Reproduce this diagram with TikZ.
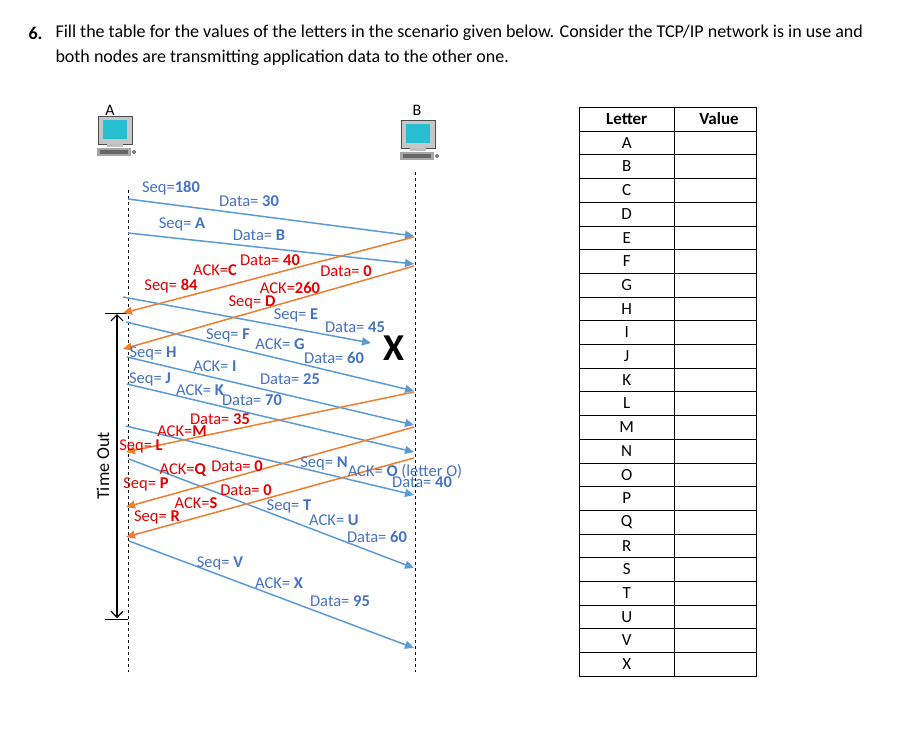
\documentclass[tikz,border=0pt]{standalone}
\usepackage{fontspec}
\setmainfont{Carlito}
\usetikzlibrary{arrows.meta}
\definecolor{bl}{RGB}{91,155,213}
\definecolor{blt}{RGB}{68,114,196}
\definecolor{orr}{RGB}{237,125,49}
\definecolor{rdt}{RGB}{230,0,0}
\definecolor{scr}{RGB}{40,190,210}
\tikzset{
 bmsg/.style={bl,line width=1.5pt,-{Triangle[length=9pt,width=8pt]}},
 omsg/.style={orr,line width=1.5pt,-{Triangle[length=9pt,width=8pt]}},
 bt/.style={text=blt,font=\fontsize{16.5}{17}\selectfont,inner sep=0pt},
 rt/.style={text=rdt,font=\fontsize{16.5}{17}\selectfont,inner sep=0pt},
 cell/.style={draw,minimum width=95pt,minimum height=23.7pt,font=\fontsize{17}{18}\selectfont,inner sep=0pt},
 cellv/.style={draw,minimum width=82pt,minimum height=23.7pt,font=\fontsize{17}{18}\selectfont,inner sep=0pt},
 tl/.style={dashed,line width=0.8pt}
}
\newcommand{\pc}[2]{%
 \fill[gray!45] (#1-17,#2-14) rectangle (#1+17,#2+14);
 \draw[black!70] (#1-17,#2-14) rectangle (#1+17,#2+14);
 \fill[scr] (#1-12,#2-10) rectangle (#1+12,#2+9);
 \fill[gray!50] (#1-8,#2+14) rectangle (#1+8,#2+17);
 \fill[gray!70] (#1-18,#2+18) rectangle (#1+16,#2+26);
 \fill[black!60] (#1-15,#2+20) rectangle (#1+13,#2+24);
 \draw (#1+19,#2+22) circle (1.5);}
\begin{document}
\begin{tikzpicture}[x=1pt,y=-1pt]
\useasboundingbox (0,0) rectangle (899,744);
\node[anchor=west,font=\fontsize{18}{20}\selectfont] (q) at (25,33) {\textbf{6.}};
\node[anchor=west,font=\fontsize{18}{20}\selectfont] (t1) at (52,33) {Fill the table for the values of the letters in the scenario given below. Consider the TCP/IP network is in use and};
\node[anchor=west,font=\fontsize{18}{20}\selectfont] (t2) at (52,58) {both nodes are transmitting application data to the other one.};
% hosts
\node[font=\fontsize{16}{17}\selectfont] (la) at (110,110) {A};
\node[font=\fontsize{16}{17}\selectfont] (lb) at (417,110) {B};
\pc{115}{130}
\pc{418}{134}
% time lines
\coordinate (a0) at (128,190); \coordinate (a1) at (128,672);
\coordinate (b0) at (415,172); \coordinate (b1) at (415,672);
\draw[tl] (a0) -- (a1);
\draw[tl] (b0) -- (b1);
% timeout
\coordinate (to1) at (117,314); \coordinate (to2) at (117,618);
\draw[line width=0.8pt] (105,313) -- (128,313);
\draw[line width=0.8pt] (105,619) -- (128,619);
\draw[line width=1.2pt,{Straight Barb[length=6pt,width=12pt]}-{Straight Barb[length=6pt,width=12pt]}] (to1) -- (to2);
\node[rotate=90,font=\fontsize{18}{20}\selectfont] (tol) at (103,466) {Time Out};
% blue messages
\coordinate (p1) at (128,199); \coordinate (q1) at (414,236);
\coordinate (p2) at (128,233); \coordinate (q2) at (414,264);
\coordinate (p3) at (123,297); \coordinate (q3) at (371,343);
\coordinate (p4) at (126,322); \coordinate (q4) at (414,391);
\coordinate (p5) at (127,357); \coordinate (q5) at (414,425);
\coordinate (p6) at (127,384); \coordinate (q6) at (414,452);
\coordinate (p7) at (126,426); \coordinate (q7) at (414,495);
\coordinate (p8) at (129,459); \coordinate (q8) at (414,568);
\coordinate (p9) at (129,541); \coordinate (q9) at (414,648);
\foreach \i in {1,...,9} \draw[bmsg] (p\i) -- (q\i);
% orange messages
\coordinate (r1) at (414,237); \coordinate (s1) at (123,313);
\coordinate (r2) at (414,266); \coordinate (s2) at (123,349);
\coordinate (r3) at (414,392); \coordinate (s3) at (126,452);
\coordinate (r4) at (414,427); \coordinate (s4) at (126,507);
\coordinate (r5) at (414,458); \coordinate (s5) at (126,537);
\foreach \i in {1,...,5} \draw[omsg] (r\i) -- (s\i);
\node[font=\bfseries\fontsize{38}{38}\selectfont,inner sep=0pt] (x) at (394,348) {X};
% labels
\node[bt] (l1) at (171,188) {Seq=\textbf{180}};
\node[bt] (l2) at (249,201) {Data= \textbf{30}};
\node[bt] (l3) at (182,224) {Seq= \textbf{A}};
\node[bt] (l4) at (259,235) {Data= \textbf{B}};
\node[rt] (l5) at (215,270) {ACK=\textbf{C}};
\node[rt] (l6) at (270,260) {Data= \textbf{40}};
\node[rt] (l7) at (346,271) {Data= \textbf{0}};
\node[rt] (l8) at (171,286) {Seq= \textbf{84}};
\node[rt] (l9) at (290,288) {ACK=\textbf{260}};
\node[rt] (l10) at (252,302) {Seq= \textbf{D}};
\node[bt] (l11) at (296,315) {Seq= \textbf{E}};
\node[bt] (l12) at (355,327) {Data= \textbf{45}};
\node[bt] (l13) at (228,335) {Seq= \textbf{F}};
\node[bt] (l14) at (280,344) {ACK= \textbf{G}};
\node[bt] (l15) at (334,358) {Data= \textbf{60}};
\node[bt] (l16) at (153,353) {Seq= \textbf{H}};
\node[bt] (l17) at (215,366) {ACK= \textbf{I}};
\node[bt] (l18) at (290,379) {Data= \textbf{25}};
\node[bt] (l19) at (150,379) {Seq= \textbf{J}};
\node[bt] (l20) at (200,390) {ACK= \textbf{K}};
\node[bt] (l21) at (252,400) {Data= \textbf{70}};
\node[rt] (l22) at (220,419) {Data= \textbf{35}};
\node[rt] (l23) at (182,431) {ACK=\textbf{M}};
\node[rt] (l24) at (141,446) {Seq= \textbf{L}};
\node[rt] (l25) at (237,466) {Data= \textbf{0}};
\node[rt] (l26) at (183,470) {ACK=\textbf{Q}};
\node[bt] (l27) at (324,463) {Seq= \textbf{N}};
\node[bt] (l28) at (405,472) {ACK= \textbf{O} (letter O)};
\node[bt] (l29) at (422,482) {Data= \textbf{40}};
\node[rt] (l30) at (146,484) {Seq= \textbf{P}};
\node[rt] (l31) at (246,490) {Data= \textbf{0}};
\node[rt] (l32) at (196,503) {ACK=\textbf{S}};
\node[bt] (l33) at (289,506) {Seq= \textbf{T}};
\node[rt] (l34) at (157,517) {Seq= \textbf{R}};
\node[bt] (l35) at (334,520) {ACK= \textbf{U}};
\node[bt] (l36) at (377,537) {Data= \textbf{60}};
\node[bt] (l37) at (220,563) {Seq= \textbf{V}};
\node[bt] (l38) at (279,583) {ACK= \textbf{X}};
\node[bt] (l39) at (340,601) {Data= \textbf{95}};
% table
\node[cell,anchor=north west] (h1) at (579,107) {\textbf{Letter}};
\node[cellv,anchor=north west] (h2) at (674,107) {\textbf{\ \ Value}\hfill};
\foreach \L [count=\k] in {A,B,C,D,E,F,G,H,I,J,K,L,M,N,O,P,Q,R,S,T,U,V,X} {
 \node[cell,anchor=north west] (c\k) at (579,{107+23.7*\k}) {\L};
 \node[cellv,anchor=north west] (v\k) at (674,{107+23.7*\k}) {};
}
\end{tikzpicture}
\end{document}
